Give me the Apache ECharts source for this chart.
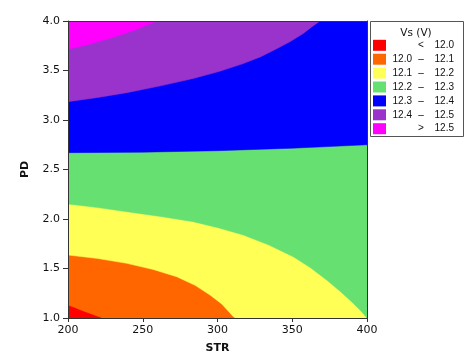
<!DOCTYPE html>
<html><head><meta charset="utf-8">
<script src="https://cdn.jsdelivr.net/npm/echarts@6/dist/echarts.min.js"></script>
<style>html,body{margin:0;padding:0;background:#fff}#c{width:474px;height:363px}</style>
</head><body><div id="c"></div>
<script>
// Axis range / ticks
var xTicks = [200, 250, 300, 350, 400];
var yTicks = [1.0, 1.5, 2.0, 2.5, 3.0, 3.5, 4.0];
// Contour levels of Vs (V)
var levels = [12.0, 12.1, 12.2, 12.3, 12.4, 12.5];
var bandColors = ['#ff0000', '#ff6600', '#ffff55', '#66e070', '#0000ff', '#9933cc', '#ff00ff'];
var bandLow  = ['', '12.0', '12.1', '12.2', '12.3', '12.4', ''];
var bandSym  = ['<', '\u2013', '\u2013', '\u2013', '\u2013', '\u2013', '>'];
var bandHigh = ['12.0', '12.1', '12.2', '12.3', '12.4', '12.5', '12.5'];
// Contour lines, [STR, PD]
var line120 = [[200,1.131],[205,1.103],[209.8,1.074],[216,1.04],[221.4,1.01],[222.5,1.0]];
var line121 = [[200,1.636],[220,1.601],[239.3,1.552],[257,1.49],[272.7,1.417],[285,1.33],[295,1.232],[303,1.14],[310.6,1.013],[312,1.0]];
var line122 = [[200,2.152],[220,2.115],[239.3,2.074],[262,2.025],[283.8,1.973],[301,1.91],[317.3,1.838],[334,1.74],[350.7,1.619],[362,1.51],[373,1.384],[382,1.27],[390.8,1.149],[396,1.07],[400,1.0]];
var line123 = [[200,2.67],[250,2.675],[300,2.69],[350,2.715],[400,2.75]];
var line124 = [[200,3.185],[220,3.228],[239.3,3.276],[262,3.345],[283.8,3.42],[301,3.49],[317.3,3.57],[329,3.64],[339.6,3.72],[349,3.795],[357.4,3.875],[363,3.94],[368.6,4.0]];
var line125 = [[200,3.714],[214,3.765],[228.1,3.825],[244,3.905],[259.3,4.0]];
var contourLines = [line120, line121, line122, line123, line124, line125];

var xMin = xTicks[0], xMax = xTicks[xTicks.length-1];
var yMin = yTicks[0], yMax = yTicks[yTicks.length-1];

function closeRegion(curve){
  var last = curve[curve.length-1], eps = 1e-6;
  var pts = curve.slice();
  if (last[1] <= yMin + eps) pts.push([xMax,yMin],[xMax,yMax],[xMin,yMax]);
  else if (last[0] >= xMax - eps) pts.push([xMax,yMax],[xMin,yMax]);
  else pts.push([xMin,yMax]);
  return pts;
}
var regions = [[[xMin,yMin],[xMax,yMin],[xMax,yMax],[xMin,yMax]]];
contourLines.forEach(function(c){ regions.push(closeRegion(c)); });

var FONT = 'DejaVu Sans';
var txt = '#111';

// Legend graphics
var lg = [];
var LX = 370, LY = 21;
lg.push({type:'rect', shape:{x:LX+0.5, y:LY+0.5, width:93, height:115}, style:{fill:'#fff', stroke:'#555', lineWidth:1}, z:100});
lg.push({type:'text', x:416, y:33, style:{text:'Vs (V)', font:'10.5px "'+FONT+'"', fill:txt, align:'center', verticalAlign:'middle'}, z:101});
for (var i=0;i<bandColors.length;i++){
  var cy = 45.3 + i*13.9;
  lg.push({type:'rect', shape:{x:373, y:cy-5.5, width:13, height:11}, style:{fill:bandColors[i]}, z:101});
  var tf = '10px "Liberation Sans"';
  if (bandLow[i]) lg.push({type:'text', x:412, y:cy, style:{text:bandLow[i], font:tf, fill:txt, align:'right', verticalAlign:'middle'}, z:101});
  lg.push({type:'text', x:421, y:cy, style:{text:bandSym[i], font:tf, fill:txt, align:'center', verticalAlign:'middle'}, z:101});
  lg.push({type:'text', x:454, y:cy, style:{text:bandHigh[i], font:tf, fill:txt, align:'right', verticalAlign:'middle'}, z:101});
}

var chart = echarts.init(document.getElementById('c'), null, {renderer:'canvas'});
var axisLine = {show:true, lineStyle:{color:'#333', width:1}};
chart.setOption({
  animation:false,
  backgroundColor:'#fff',
  grid:{left:68, right:107, top:21, bottom:45, containLabel:false},
  xAxis:[{
    type:'value', min:xMin, max:xMax, interval:50, z:10,
    axisLine:axisLine, axisTick:{show:true, length:4, lineStyle:{color:'#333'}},
    splitLine:{show:false},
    axisLabel:{fontFamily:FONT, fontSize:11, color:txt, margin:7},
    name:'STR', nameLocation:'middle', nameGap:25,
    nameTextStyle:{fontFamily:FONT, fontSize:11, fontWeight:'bold', color:txt}
  },{
    type:'value', position:'top', min:xMin, max:xMax, z:10,
    axisLine:axisLine, axisTick:{show:false}, axisLabel:{show:false}, splitLine:{show:false}
  }],
  yAxis:[{
    type:'value', min:yMin, max:yMax, interval:0.5, z:10,
    axisLine:axisLine, axisTick:{show:true, length:5, lineStyle:{color:'#333'}},
    splitLine:{show:false},
    axisLabel:{fontFamily:FONT, fontSize:11, color:txt, margin:8, formatter:function(v){return v.toFixed(1);}},
    name:'PD', nameLocation:'middle', nameGap:37, nameRotate:90,
    nameTextStyle:{fontFamily:FONT, fontSize:11, fontWeight:'bold', color:txt}
  },{
    type:'value', position:'right', min:yMin, max:yMax, z:10,
    axisLine:axisLine, axisTick:{show:false}, axisLabel:{show:false}, splitLine:{show:false}
  }],
  series:[{
    type:'custom', coordinateSystem:'cartesian2d', silent:true, clip:true,
    data: regions.map(function(r,i){return [xMin, yMin, i];}),
    encode:{x:0, y:1},
    renderItem:function(params, api){
      var idx = params.dataIndex;
      var pts = regions[idx].map(function(p){ return api.coord(p); });
      return {type:'polygon', shape:{points:pts}, style:{fill:bandColors[idx], stroke:bandColors[idx], lineWidth:0.5}};
    }
  }],
  graphic: lg
});
</script>
</body></html>
